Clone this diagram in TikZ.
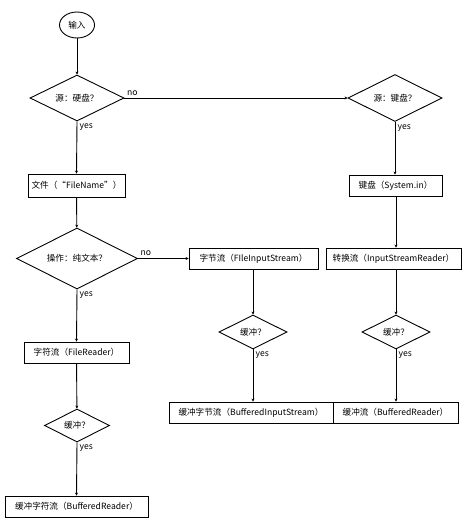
\documentclass[tikz,border=0pt]{standalone}
\usepackage{fontspec}
\setmainfont{Noto Sans CJK SC}
\usetikzlibrary{shapes.geometric,arrows.meta}

\tikzset{
  every node/.style={font=\fontsize{8.6pt}{10pt}\selectfont},
  flowbox/.style={draw,line width=0.9pt,minimum height=21pt,inner sep=0pt},
  choice/.style={draw,diamond,line width=0.9pt,shape aspect=2,inner sep=0pt},
  startnode/.style={draw,ellipse,line width=0.9pt,minimum width=35pt,minimum height=26pt,inner sep=0pt},
  flow/.style={line width=0.9pt,-{Stealth[length=3pt,width=3pt]}},
  lbl/.style={inner sep=2.2pt}
}

\begin{document}
\begin{tikzpicture}[x=1pt,y=-1pt]
      \useasboundingbox (0,0) rectangle (474,523);
      % left column
      \node[startnode] (input) at (77,25) {输入};
      \node[choice,minimum width=94pt,minimum height=46pt] (srcdisk) at (77,98) {源：硬盘？};
      \node[flowbox,minimum width=97pt,minimum height=23pt] (file) at (76.5,185.5) {文件（“FileName”）};
      \node[choice,minimum width=121pt,minimum height=61pt] (plain) at (77,258.5) {操作：纯文本？};
      \node[flowbox,minimum width=105pt] (charstream) at (76.5,352.5) {字符流（FileReader）};
      \node[choice,minimum width=65pt,minimum height=33pt] (bufleft) at (77,425.5) {缓冲？};
      \node[flowbox,minimum width=143pt] (bufchar) at (76.5,506.5) {缓冲字符流（BufferedReader）};
      % middle column
      \node[flowbox,minimum width=129pt] (bytestream) at (253.5,258.5) {字节流（FIleInputStream）};
      \node[choice,minimum width=68pt,minimum height=34pt] (bufmid) at (253,332) {缓冲？};
      \node[flowbox,minimum width=164pt] (bufbyte) at (251,412.5) {缓冲字节流（BufferedInputStream）};
      % right column
      \node[choice,minimum width=94pt,minimum height=47pt] (srckbd) at (395,98) {源：键盘？};
      \node[flowbox,minimum width=93pt] (keyboard) at (395.5,185.5) {键盘（System.in）};
      \node[flowbox,minimum width=135pt] (convert) at (393.5,258.5) {转换流（InputStreamReader）};
      \node[choice,minimum width=68pt,minimum height=34pt] (bufright) at (396,332) {缓冲？};
      \node[flowbox,minimum width=125pt] (bufreader) at (395.5,412.5) {缓冲流（BufferedReader）};

      \draw[flow] (input) -- (srcdisk);
      \draw[flow] (srcdisk.south) -- node[lbl,pos=0,anchor=north west]{yes} (file.north);
      \draw[flow] (srcdisk.east) -- node[lbl,pos=0,anchor=south west]{no} (srckbd.west);
      \draw[flow] (srckbd.south) -- node[lbl,pos=0,anchor=north west]{yes} (srckbd.south |- keyboard.north);
      \draw[flow] (file) -- (plain);
      \draw[flow] (plain.east) -- node[lbl,pos=0,anchor=south west]{no} (bytestream.west);
      \draw[flow] (plain.south) -- node[lbl,pos=0,anchor=north west]{yes} (charstream.north);
      \draw[flow] (bufright.north |- keyboard.south) -- (bufright.north |- convert.north);
      \draw[flow] (bufmid.north |- bytestream.south) -- (bufmid.north);
      \draw[flow] (bufright.north |- convert.south) -- (bufright.north);
      \draw[flow] (bufmid.south) -- node[lbl,pos=0,anchor=north west]{yes} (bufmid.south |- bufbyte.north);
      \draw[flow] (bufright.south) -- node[lbl,pos=0,anchor=north west]{yes} (bufright.south |- bufreader.north);
      \draw[flow] (charstream) -- (bufleft);
      \draw[flow] (bufleft.south) -- node[lbl,pos=0,anchor=north west]{yes} (bufchar.north);
    \end{tikzpicture}
\end{document}
